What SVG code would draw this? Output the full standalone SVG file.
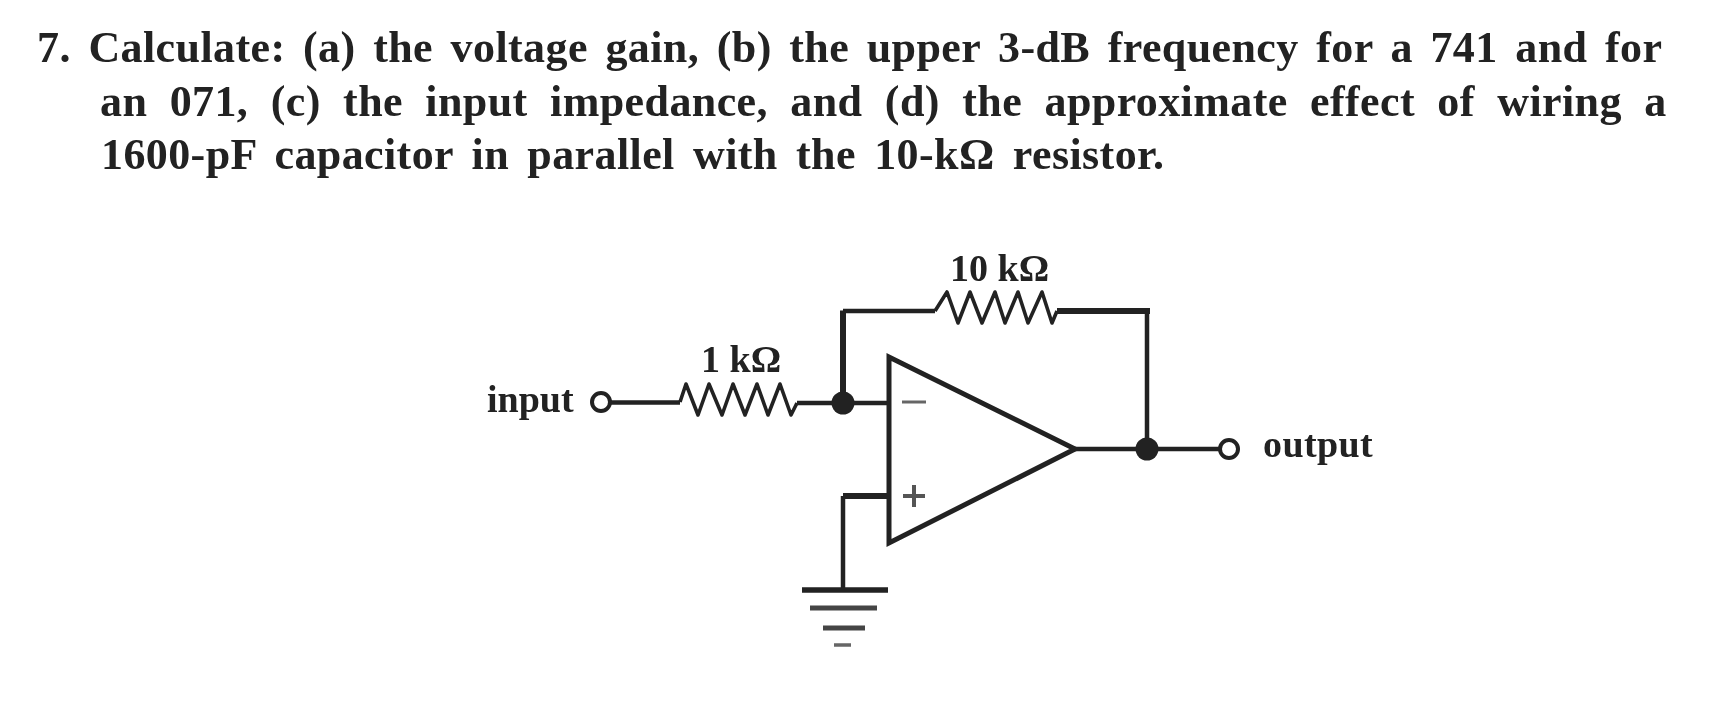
<svg xmlns="http://www.w3.org/2000/svg" width="1730" height="706" viewBox="0 0 1730 706">
<style>
text{font-family:"Liberation Serif","Times New Roman",serif;fill:#222;font-weight:700}
.p{font-size:44px;letter-spacing:.4px}.l{font-size:38px}
.w{fill:none;stroke:#222;stroke-width:4.5;stroke-linejoin:miter}
.h{fill:none;stroke:#222;stroke-width:6}
.t{fill:none;stroke:#222;stroke-width:3.6;stroke-linejoin:round}
.j{fill:#222}.o{fill:#fff;stroke:#222;stroke-width:4}
</style>
<defs><filter id="s" x="0" y="0" width="1" height="1" filterUnits="objectBoundingBox"><feGaussianBlur stdDeviation="0.6"/></filter></defs>
<rect width="1730" height="706" fill="#fff"/>
<g filter="url(#s)">
<rect width="1730" height="706" fill="#fff"/>
<g id="problem">
<text class="p" x="37" y="62" word-spacing="6.2">7. Calculate: (a) the voltage gain, (b) the upper 3-dB frequency for a 741 and for</text>
<text class="p" x="100" y="116" word-spacing="11">an 071, (c) the input impedance, and (d) the approximate effect of wiring a</text>
<text class="p" x="101" y="169" word-spacing="6.9">1600-pF capacitor in parallel with the 10-kΩ resistor.</text>
</g>
<g id="connectors">
<path class="w" d="M610 402.5H680M797 403H889M843 311H935M1147 311V449M1075 449H1220"/>
<path class="h" d="M843 403V310.5M1057 311H1150M888 496H843"/>
<path class="w" d="M843 496V590"/>
<path class="t" d="M680 402L686 384L698 415L709 384L722 415L733 384L745 415L757 384L768 415L780 384L791 415L797 403"/>
<path class="t" d="M935 311L947 292L958 323L970 292L982 323L995 292L1005 323L1018 292L1028 323L1042 292L1052 323L1057 311"/>
</g>
<g id="input-terminal"><circle class="o" cx="601" cy="402" r="9"/><text class="l" x="487" y="412">input</text></g>
<g id="r1"><text class="l" x="701" y="372">1 kΩ</text></g>
<g id="rf"><text class="l" x="950" y="281">10 kΩ</text></g>
<g id="opamp">
<path d="M889 357V543L1075 449Z" fill="none" stroke="#222" stroke-width="5"/>
<path d="M902 402H926" fill="none" stroke="#666" stroke-width="3"/>
<path d="M903 496H925M914 485V507" fill="none" stroke="#555" stroke-width="4"/>
</g>
<g id="junction-in"><circle class="j" cx="843" cy="403" r="11.5"/></g>
<g id="junction-out"><circle class="j" cx="1147" cy="449" r="11.5"/></g>
<g id="output-terminal"><circle class="o" cx="1229" cy="449" r="9"/><text class="l" x="1263" y="457" letter-spacing=".4">output</text></g>
<g id="ground">
<path d="M802 590H888" stroke="#222" stroke-width="5.5"/>
<path d="M810 608H877" stroke="#444" stroke-width="5"/>
<path d="M823 628H865" stroke="#444" stroke-width="5"/>
<path d="M834 645H851" stroke="#666" stroke-width="3.5"/>
</g>
</g>
</svg>
